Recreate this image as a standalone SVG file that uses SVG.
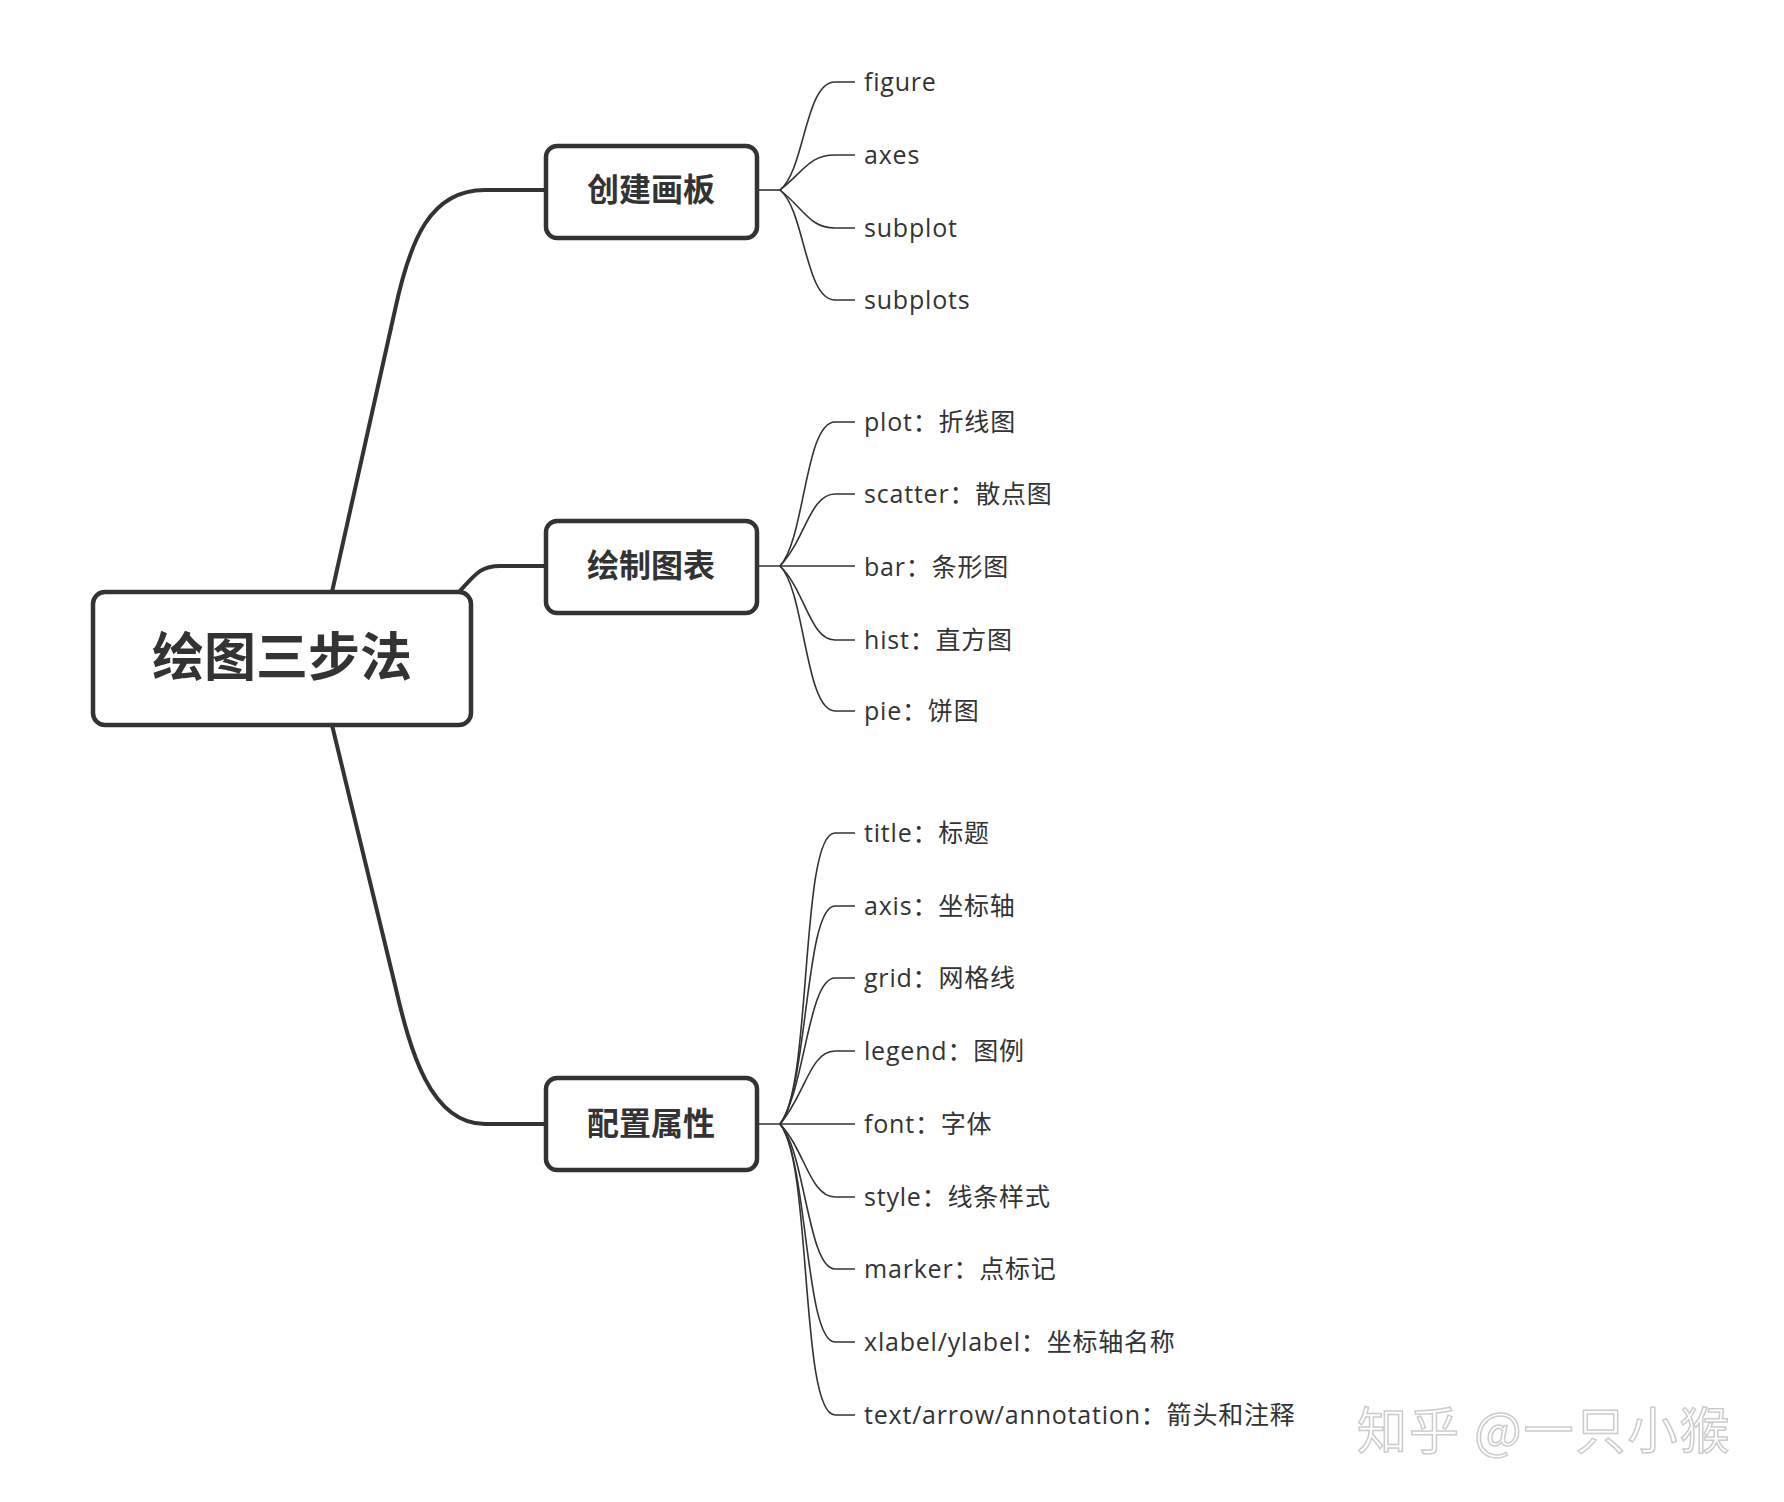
<svg xmlns="http://www.w3.org/2000/svg" width="1784" height="1502" viewBox="0 0 1784 1502">
<style>
.box{fill:#fff;stroke:#333;stroke-width:4.5}
.main{fill:none;stroke:#333;stroke-width:4}
.leaf{fill:none;stroke:#333;stroke-width:1.6}
.t1{font-family:"Noto Sans CJK SC",sans-serif;font-weight:bold;font-size:52px;fill:#333;text-anchor:middle}
.t2{font-family:"Noto Sans CJK SC",sans-serif;font-weight:bold;font-size:32px;fill:#333;text-anchor:middle}
.tl{font-family:"Open Sans","Noto Sans CJK SC",sans-serif;font-size:25px;fill:#333;letter-spacing:0.8px}
</style>
<rect width="1784" height="1502" fill="#fff"/>
<g id="connectors">
<path class="main" d="M332,592 L395,310 C410,240 430,190 485,190 H546"/>
<path class="main" d="M459,592 C475,575 480,566 500,566 H546"/>
<path class="main" d="M332,725 L395,985 C410,1050 430,1124 485,1124 H546"/>
<g class="leaf">
<path d="M757,190 H780"/>
<path d="M780,190 C805,170 805,82 835,82 H855"/>
<path d="M780,190 C805,170 810,155 835,155 H855"/>
<path d="M780,190 C805,210 810,228 835,228 H855"/>
<path d="M780,190 C805,210 805,300 835,300 H855"/>
<path d="M757,566 H855"/>
<path d="M780,566 C805,540 805,422 835,422 H855"/>
<path d="M780,566 C805,540 810,494 835,494 H855"/>
<path d="M780,566 C805,590 810,640 835,640 H855"/>
<path d="M780,566 C805,590 805,711 835,711 H855"/>
<path d="M757,1124 H855"/>
<path d="M780,1124 C812,1090 800,833 835,833 H855"/>
<path d="M780,1124 C808,1090 805,906 835,906 H855"/>
<path d="M780,1124 C805,1090 808,978 835,978 H855"/>
<path d="M780,1124 C805,1095 810,1051 835,1051 H855"/>
<path d="M780,1124 C805,1150 810,1197 835,1197 H855"/>
<path d="M780,1124 C805,1150 808,1269 835,1269 H855"/>
<path d="M780,1124 C808,1160 805,1342 835,1342 H855"/>
<path d="M780,1124 C812,1160 800,1415 835,1415 H855"/>
</g>
</g>
<g id="root"><rect class="box" x="93" y="592" width="378" height="133" rx="12"/><text class="t1" x="282" y="676">绘图三步法</text></g>
<g id="n1"><rect class="box" x="546" y="146" width="211" height="92" rx="11"/><text class="t2" x="651" y="201">创建画板</text></g>
<g id="n2"><rect class="box" x="546" y="521" width="211" height="92" rx="11"/><text class="t2" x="651" y="577">绘制图表</text></g>
<g id="n3"><rect class="box" x="546" y="1078" width="211" height="92" rx="11"/><text class="t2" x="651" y="1135">配置属性</text></g>
<g id="leaves" class="tl">
<text x="864" y="91">figure</text>
<text x="864" y="164">axes</text>
<text x="864" y="237">subplot</text>
<text x="864" y="309">subplots</text>
<text x="864" y="431">plot：折线图</text>
<text x="864" y="503">scatter：散点图</text>
<text x="864" y="576">bar：条形图</text>
<text x="864" y="649">hist：直方图</text>
<text x="864" y="720">pie：饼图</text>
<text x="864" y="842">title：标题</text>
<text x="864" y="915">axis：坐标轴</text>
<text x="864" y="987">grid：网格线</text>
<text x="864" y="1060">legend：图例</text>
<text x="864" y="1133">font：字体</text>
<text x="864" y="1206">style：线条样式</text>
<text x="864" y="1278">marker：点标记</text>
<text x="864" y="1351">xlabel/ylabel：坐标轴名称</text>
<text x="864" y="1424">text/arrow/annotation：箭头和注释</text>
</g>
<text x="1357" y="1449" font-family="Noto Sans CJK SC,sans-serif" font-size="50" letter-spacing="2" fill="#fff" stroke="#ccc" stroke-width="1.5">知乎 @一只小猴</text>
</svg>
